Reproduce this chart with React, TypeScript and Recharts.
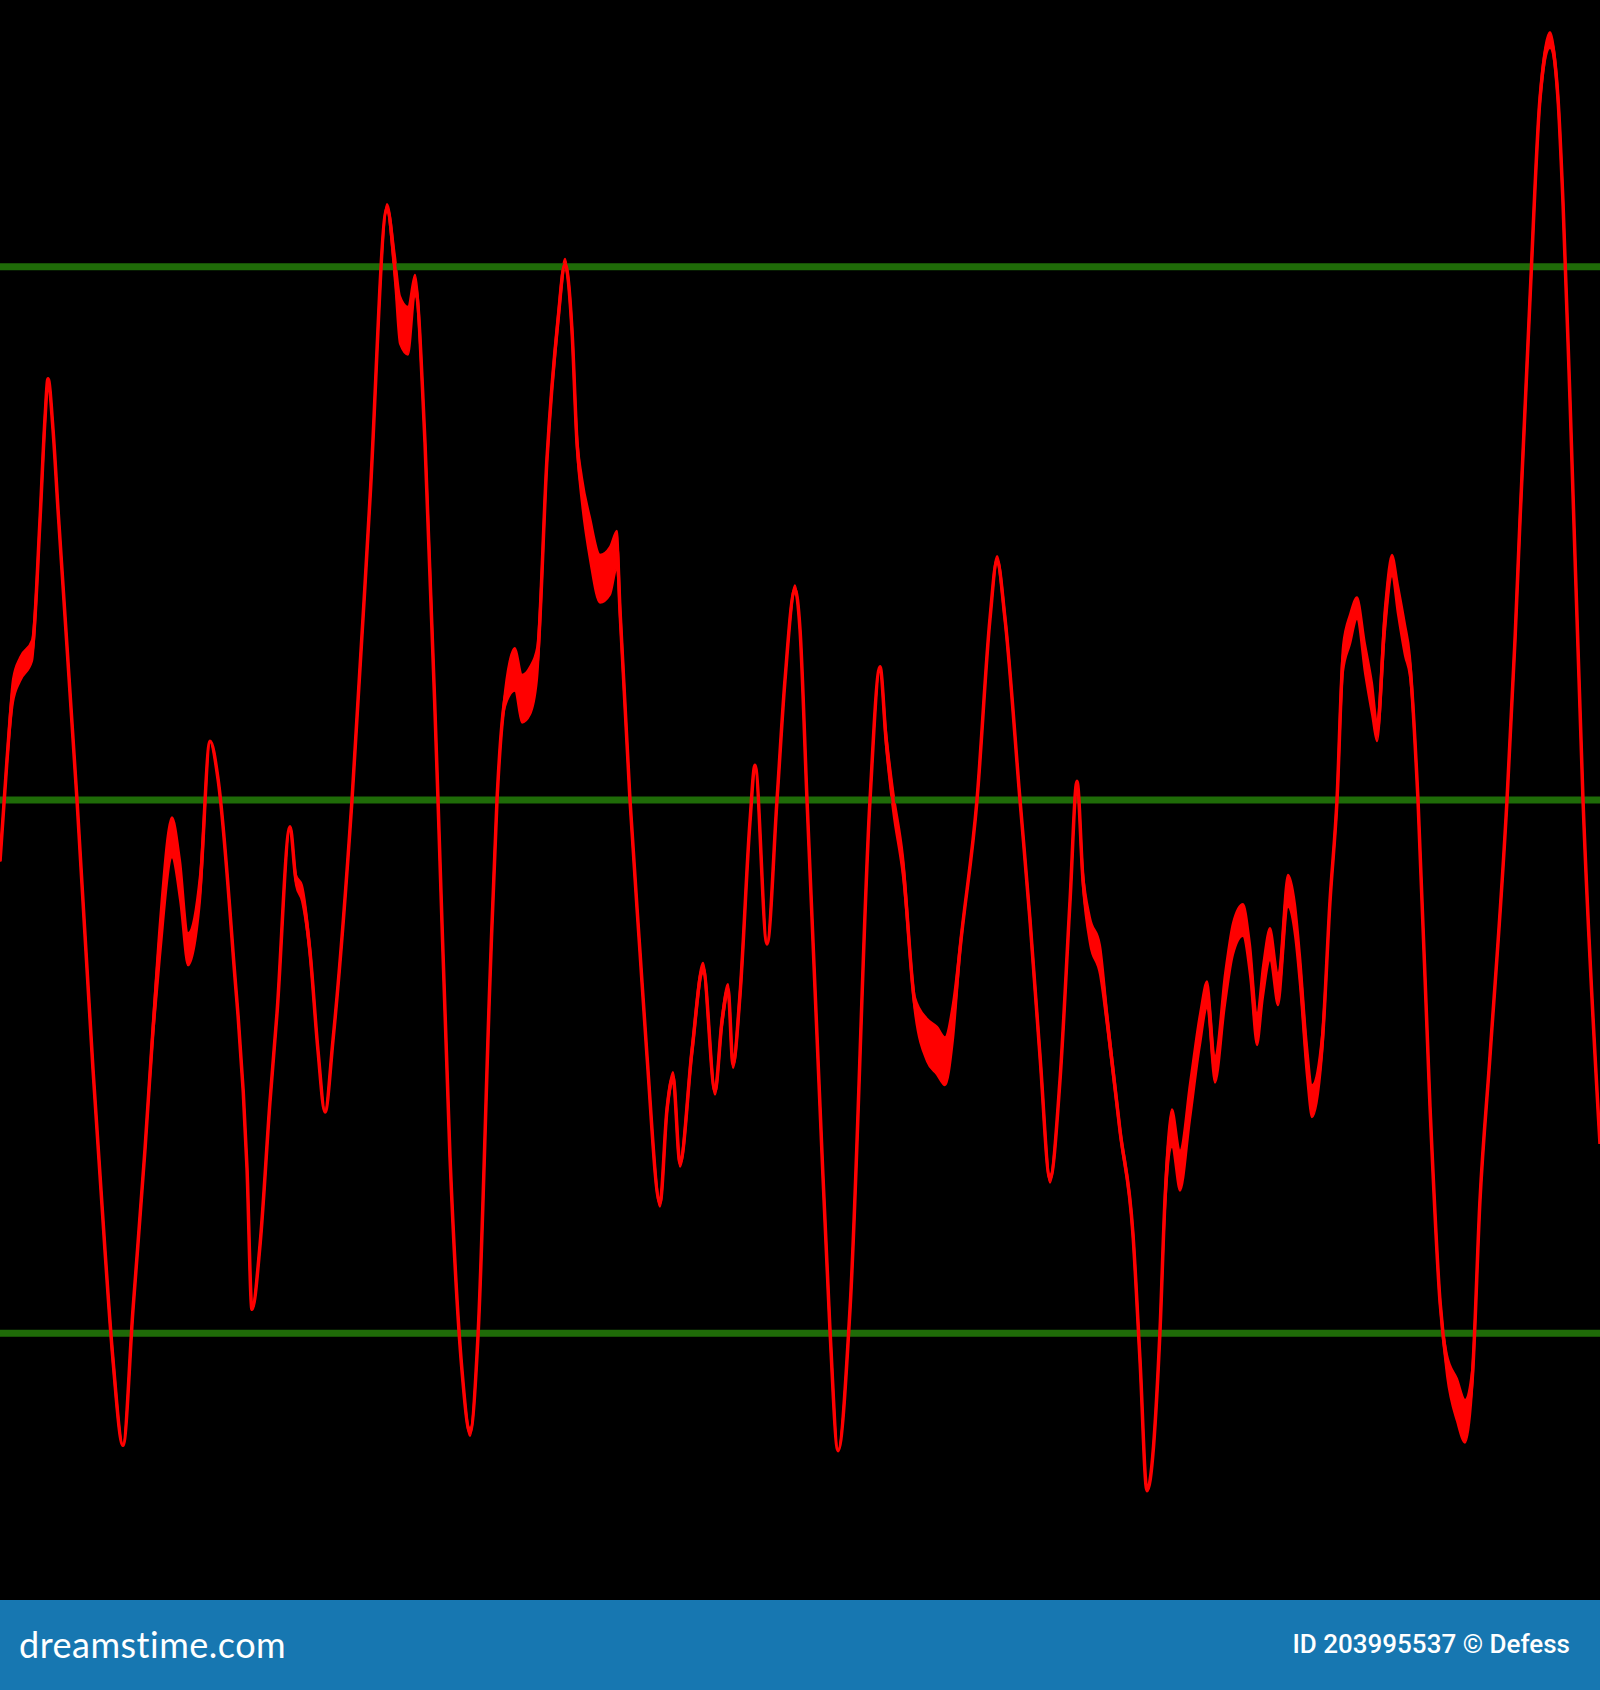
import React from 'react';
import { ComposedChart, Line, Area, XAxis, YAxis, ReferenceLine } from 'recharts';

// time (ms) of each sample
const time = [
  0, 7, 13, 20, 32, 40, 45, 48, 53, 58, 77, 93, 105, 113, 123, 133, 145, 153, 160, 172,
  180, 188, 200, 210, 218, 233, 247, 252, 260, 270, 277, 290, 296, 302, 310, 318, 325, 333, 352, 370,
  387, 395, 400, 408, 415, 425, 438, 450, 462, 470, 478, 490, 497, 505, 515, 522, 530, 537, 547, 558,
  565, 572, 577, 582, 590, 600, 610, 617, 620, 630, 640, 647, 660, 667, 673, 680, 692, 703, 715, 722,
  728, 733, 740, 750, 755, 767, 777, 785, 795, 800, 807, 820, 830, 838, 850, 870, 880, 886, 893, 903,
  915, 927, 937, 945, 953, 960, 977, 990, 997, 1005, 1020, 1030, 1040, 1050, 1060, 1070, 1077, 1083, 1090, 1100,
  1107, 1120, 1133, 1140, 1147, 1160, 1165, 1172, 1180, 1190, 1200, 1207, 1215, 1225, 1233, 1243, 1250, 1257, 1263, 1270,
  1278, 1288, 1295, 1300, 1307, 1312, 1322, 1330, 1337, 1343, 1350, 1357, 1365, 1372, 1377, 1385, 1392, 1398, 1405, 1410,
  1418, 1430, 1440, 1447, 1457, 1465, 1472, 1480, 1490, 1507, 1515, 1520, 1530, 1540, 1550, 1558, 1563, 1570, 1583, 1600,
];

// signal amplitude
const amplitude = [
  -0.23, 0.15, 0.41, 0.49, 0.56, 1.05, 1.43, 1.58, 1.39, 1.09, 0, -1.01, -1.69, -2.1, -2.42, -1.91, -1.31, -0.86, -0.52, -0.14,
  -0.3, -0.56, -0.33, 0.22, 0.08, -0.57, -1.38, -1.91, -1.67, -1.13, -0.8, -0.1, -0.3, -0.35, -0.57, -0.94, -1.17, -0.9, 0, 1.13,
  2.22, 1.99, 1.8, 1.76, 1.93, 1.34, 0, -1.34, -2.14, -2.37, -2.01, -0.67, 0, 0.38, 0.49, 0.38, 0.41, 0.51, 1.28, 1.8,
  2.01, 1.76, 1.34, 1.16, 0.98, 0.83, 0.86, 0.94, 0.71, 0, -0.57, -0.96, -1.51, -1.16, -1.04, -1.36, -0.94, -0.63, -1.09, -0.83,
  -0.71, -0.99, -0.73, -0.08, 0.13, -0.54, 0, 0.45, 0.79, 0.64, 0, -1.15, -1.99, -2.44, -1.91, 0, 0.5, 0.23, 0, -0.25,
  -0.77, -0.9, -0.94, -0.98, -0.83, -0.56, 0, 0.68, 0.9, 0.68, 0, -0.45, -0.96, -1.42, -1.05, -0.38, 0.07, -0.3, -0.49, -0.6,
  -0.82, -1.24, -1.63, -2.1, -2.59, -1.99, -1.5, -1.23, -1.39, -1.13, -0.86, -0.73, -1.01, -0.71, -0.52, -0.45, -0.6, -0.86, -0.68, -0.54,
  -0.71, -0.34, -0.45, -0.64, -0.98, -1.13, -0.92, -0.38, 0, 0.53, 0.64, 0.72, 0.53, 0.38, 0.26, 0.68, 0.88, 0.75, 0.6, 0.5,
  0, -1.15, -1.88, -2.12, -2.25, -2.33, -2.18, -1.5, -0.96, 0, 0.6, 1.05, 1.88, 2.63, 2.85, 2.63, 2.24, 1.5, 0, -1.29,
];

// half-width of the high-frequency noise band around the signal
const noise = [
  0, 0.015, 0.045, 0.045, 0.04, 0.015, 0.02, 0, 0, 0, 0, 0, 0, 0.015, 0, 0, 0, 0.03, 0.07, 0.075,
  0.075, 0.06, 0.05, 0, 0, 0, 0, 0, 0, 0, 0, 0, 0.02, 0.03, 0.02, 0, 0, 0, 0, 0,
  0.015, 0.05, 0.09, 0.09, 0.04, 0, 0, 0, 0, 0.015, 0, 0, 0, 0.03, 0.08, 0.09, 0.09, 0.06, 0.015, 0.02,
  0.02, 0.02, 0.03, 0.05, 0.08, 0.09, 0.09, 0.07, 0.03, 0, 0, 0, 0.015, 0.015, 0.02, 0.015, 0.02, 0.02, 0.015, 0.02,
  0.02, 0.015, 0.02, 0, 0, 0, 0, 0, 0.015, 0, 0, 0, 0.015, 0, 0, 0, 0, 0.03, 0.04, 0.04,
  0.03, 0.08, 0.09, 0.09, 0.07, 0.02, 0, 0, 0.015, 0.015, 0, 0.015, 0.015, 0.015, 0, 0, 0, 0.03, 0.05, 0.056,
  0.03, 0.015, 0.015, 0.015, 0, 0, 0.04, 0.07, 0.075, 0.07, 0.06, 0.05, 0.05, 0.06, 0.06, 0.06, 0.06, 0.06, 0.06, 0.06,
  0.06, 0.06, 0.06, 0.06, 0.06, 0.06, 0.04, 0, 0.02, 0.05, 0.056, 0.04, 0.056, 0.06, 0.04, 0.05, 0.04, 0.056, 0.06, 0.04,
  0, 0, 0.015, 0.04, 0.08, 0.08, 0.04, 0, 0, 0, 0.015, 0.025, 0.015, 0.02, 0.03, 0.02, 0.015, 0, 0, 0,
];

// horizontal guide levels
const guideLevels = [2, 0, -2];

const data = time.map((t, i) => ({
  t,
  v: amplitude[i],
  band: [amplitude[i] - noise[i], amplitude[i] + noise[i]],
}));

export default function App() {
  return (
    <div
      style={{
        position: 'absolute',
        left: 0,
        top: 0,
        width: 1600,
        height: 1690,
        background: '#000',
        overflow: 'hidden',
      }}
    >
      <ComposedChart width={1600} height={1600} data={data} margin={{ top: 0, right: 0, bottom: 0, left: 0 }}>
        <XAxis type="number" dataKey="t" domain={[0, 1600]} hide />
        <YAxis type="number" domain={[-3, 3]} hide />
        {guideLevels.map((lv) => (
          <ReferenceLine key={lv} y={lv} stroke="#1f6b08" strokeWidth={7} />
        ))}
        <Area
          type="monotone"
          dataKey="band"
          stroke="#ff0000"
          strokeWidth={2}
          fill="#ff0000"
          fillOpacity={1}
          isAnimationActive={false}
          dot={false}
          activeDot={false}
        />
        <Line
          type="monotone"
          dataKey="v"
          stroke="#ff0000"
          strokeWidth={3.5}
          dot={false}
          activeDot={false}
          isAnimationActive={false}
        />
      </ComposedChart>
      <div
        style={{
          position: 'absolute',
          left: 0,
          top: 1600,
          width: 1600,
          height: 90,
          background: '#1777b1',
          color: '#fff',
        }}
      >
        <div
          style={{
            position: 'absolute',
            left: 19,
            top: 22,
            fontFamily: 'Lato, "Open Sans", sans-serif',
            fontSize: 36,
            lineHeight: '44px',
            letterSpacing: 0.5,
          }}
        >
          dreamstime.com
        </div>
        <div
          style={{
            position: 'absolute',
            right: 30,
            top: 28,
            fontFamily: 'Roboto, "Noto Sans", sans-serif',
            fontWeight: 500,
            fontSize: 26,
            lineHeight: '32px',
          }}
        >
          ID 203995537 © Defess
        </div>
      </div>
    </div>
  );
}
